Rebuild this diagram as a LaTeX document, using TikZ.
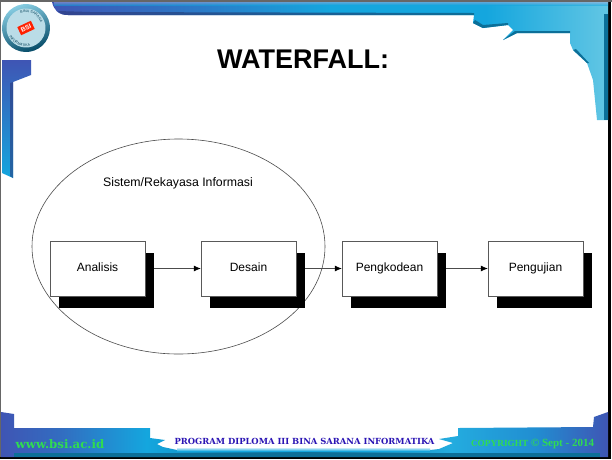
\documentclass[tikz,border=0pt]{standalone}
\usepackage{fontspec}
\setmainfont{Liberation Sans}
\newfontfamily\slabfont{DejaVu Serif}
\newfontfamily\romanfont{Liberation Serif}
\usetikzlibrary{arrows.meta,shapes.geometric,shadows,backgrounds,decorations.text}
\definecolor{navyblue}{HTML}{3F55B4}
\definecolor{midblue}{HTML}{14A6DE}
\definecolor{paleblue}{HTML}{62C6E4}
\definecolor{edgeteal}{HTML}{0C6F98}
\definecolor{webgreen}{HTML}{30DC50}
\definecolor{progblue}{HTML}{2A14B4}
\pgfdeclarehorizontalshading{bandtop}{100bp}{color(0bp)=(navyblue); color(25bp)=(navyblue); color(38bp)=(navyblue!55!midblue); color(50bp)=(midblue); color(64bp)=(midblue); color(75bp)=(paleblue); color(100bp)=(paleblue)}
\pgfdeclarehorizontalshading{bandfoot}{100bp}{color(0bp)=(navyblue); color(25bp)=(navyblue); color(30bp)=(navyblue!70!midblue); color(37bp)=(midblue); color(50bp)=(edgeteal); color(62bp)=(midblue!80!paleblue); color(69bp)=(midblue!70!navyblue); color(75bp)=(navyblue); color(100bp)=(navyblue)}
\tikzset{
    box/.style={draw=black!65, fill=white, minimum width=95pt, minimum height=55pt, inner sep=0pt,
        font=\fontsize{12}{14}\selectfont, text height=9pt, text depth=2.5pt,
        general shadow={shadow xshift=9pt, shadow yshift=-12pt, fill=black}},
    link/.style={->, draw=black!70, line width=.7pt},
    logotext/.style={decorate, decoration={text along path, text align=center,
        text={|\fontsize{3.6}{4}\selectfont\color{edgeteal!60!black}|#1}}}
}
\begin{document}
\begin{tikzpicture}[>={Latex[length=7pt,width=6pt,black]}, x=1pt, y=-1pt]
    \useasboundingbox (0,0) rectangle (612,459);
    % frame
    \begin{pgfonlayer}{background}
        \fill[white] (0,0) rectangle (612,459);
    \end{pgfonlayer}
    \fill[black!60] (0,0) rectangle (612,2);
    \fill[black!60] (0,0) rectangle (1.2,459);
    \fill[black] (608,2) rectangle (611,459);
    \fill[black] (0,457) rectangle (611,459);
    % top band
    \shade[shading=bandtop]
        (52,2) .. controls (54,10) and (58,15) .. (68,15) -- (474,15) -- (473,23) -- (483,28)
        -- (508,25) -- (513,30) -- (503,40) -- (517,33) -- (570,33) -- (570,43) -- (573,50)
        -- (587,63) -- (593,80) -- (597,120) -- (608,120) -- (608,2) -- cycle;
    \shade[left color=navyblue!80!black, right color=edgeteal]
        (58,11) .. controls (60,14) and (64,15) .. (68,15) -- (474,15) -- (474,13) -- (90,12) -- cycle;
    \fill[edgeteal] (473,23) -- (483,28) -- (508,25) -- (508,23) -- (483,25) -- (475,20) -- cycle;
    \fill[edgeteal] (503,40) -- (517,33) -- (570,33) -- (570,31) -- (515,31) -- cycle;
    \fill[edgeteal] (573,50) -- (587,63) -- (589,63) -- (576,49) -- cycle;
    \fill[edgeteal] (604,14) rectangle (608,120);
    \shade[top color=white!50!navyblue, bottom color=midblue, opacity=.5] (54,2) rectangle (608,5);
    % left band
    \shade[top color=navyblue, middle color=navyblue!70!midblue, bottom color=midblue]
        (2,60) -- (31,60) -- (31,75) -- (13,82) -- (13,178) -- (2,173) -- cycle;
    \fill[navyblue!70!black, opacity=.6] (10,83) -- (13,82) -- (13,178) -- (10,176) -- cycle;
    % bottom band
    \shade[shading=bandfoot]
        (1,412) -- (14,414) -- (14,428) -- (150,428) -- (150,438) -- (165,440) -- (157,444)
        -- (163,447) -- (177,450) -- (430,450) -- (439,449) -- (453,443) -- (439,439)
        -- (458,436) -- (458,428) -- (593,427) -- (594,417) -- (608,412) -- (608,457) -- (1,457) -- cycle;
    \shade[top color=white, bottom color=midblue] (177,447) rectangle (430,451);
    \fill[edgeteal] (14,453) rectangle (600,457);
    % logo
    \begin{scope}[shift={(26,28)}, x=1pt, y=1pt, rotate=-25]
        \shade[left color=paleblue!70!white, right color=edgeteal!70!black, shading angle=20] (0,0) circle (24);
        \fill[black!15!paleblue!40!white] (0,0) circle (19.5);
        \path[logotext={BINA SARANA}] (170:15.5) arc (170:10:15.5);
        \path[logotext={INFORMATIKA}] (190:18.5) arc (190:350:18.5);
        \node[fill=red!75!orange, minimum width=15pt, minimum height=9pt, inner sep=0pt, font=\bfseries\fontsize{6.5}{7}\selectfont, text=white, rotate=25] (logomark) at (0,0) {BSI};
    \end{scope}
    % diagram
    \node[ellipse, draw=black!70, line width=.6pt, minimum width=293pt, minimum height=215pt, inner sep=0pt] (sistem) at (178.5,246.5) {};
    \node[font=\fontsize{12.3}{14}\selectfont] (sistemlabel) at (178,183) {Sistem/Rekayasa Informasi};
    \node[font=\bfseries\fontsize{27}{30}\selectfont] (judul) at (303,59) {WATERFALL:};
    \foreach \nama/\x/\teks in {analisis/97.5/Analisis, desain/248.5/Desain, kode/389.5/Pengkodean, uji/535.5/Pengujian}
    {
        \node[box] (\nama) at (\x,268.5) {\teks};
    }
    \begin{pgfonlayer}{background}
        \foreach \a/\b in {analisis/desain, desain/kode, kode/uji}
        {
            \draw[link] (\a)--(\b);
        }
    \end{pgfonlayer}
    % footer
    \node[font=\slabfont\bfseries\fontsize{11.8}{13}\selectfont, text=webgreen] (web) at (60,444) {www.bsi.ac.id};
    \node[font=\slabfont\bfseries\fontsize{8.4}{10}\selectfont, text=progblue] (program) at (304.5,441) {PROGRAM DIPLOMA III BINA SARANA INFORMATIKA};
    \node[font=\romanfont\bfseries\fontsize{11}{13}\selectfont, text=webgreen] (hakcipta) at (532.5,444) {{\fontsize{9.3}{11}\selectfont COPYRIGHT} \textcopyright{} Sept - 2014};
\end{tikzpicture}
\end{document}
